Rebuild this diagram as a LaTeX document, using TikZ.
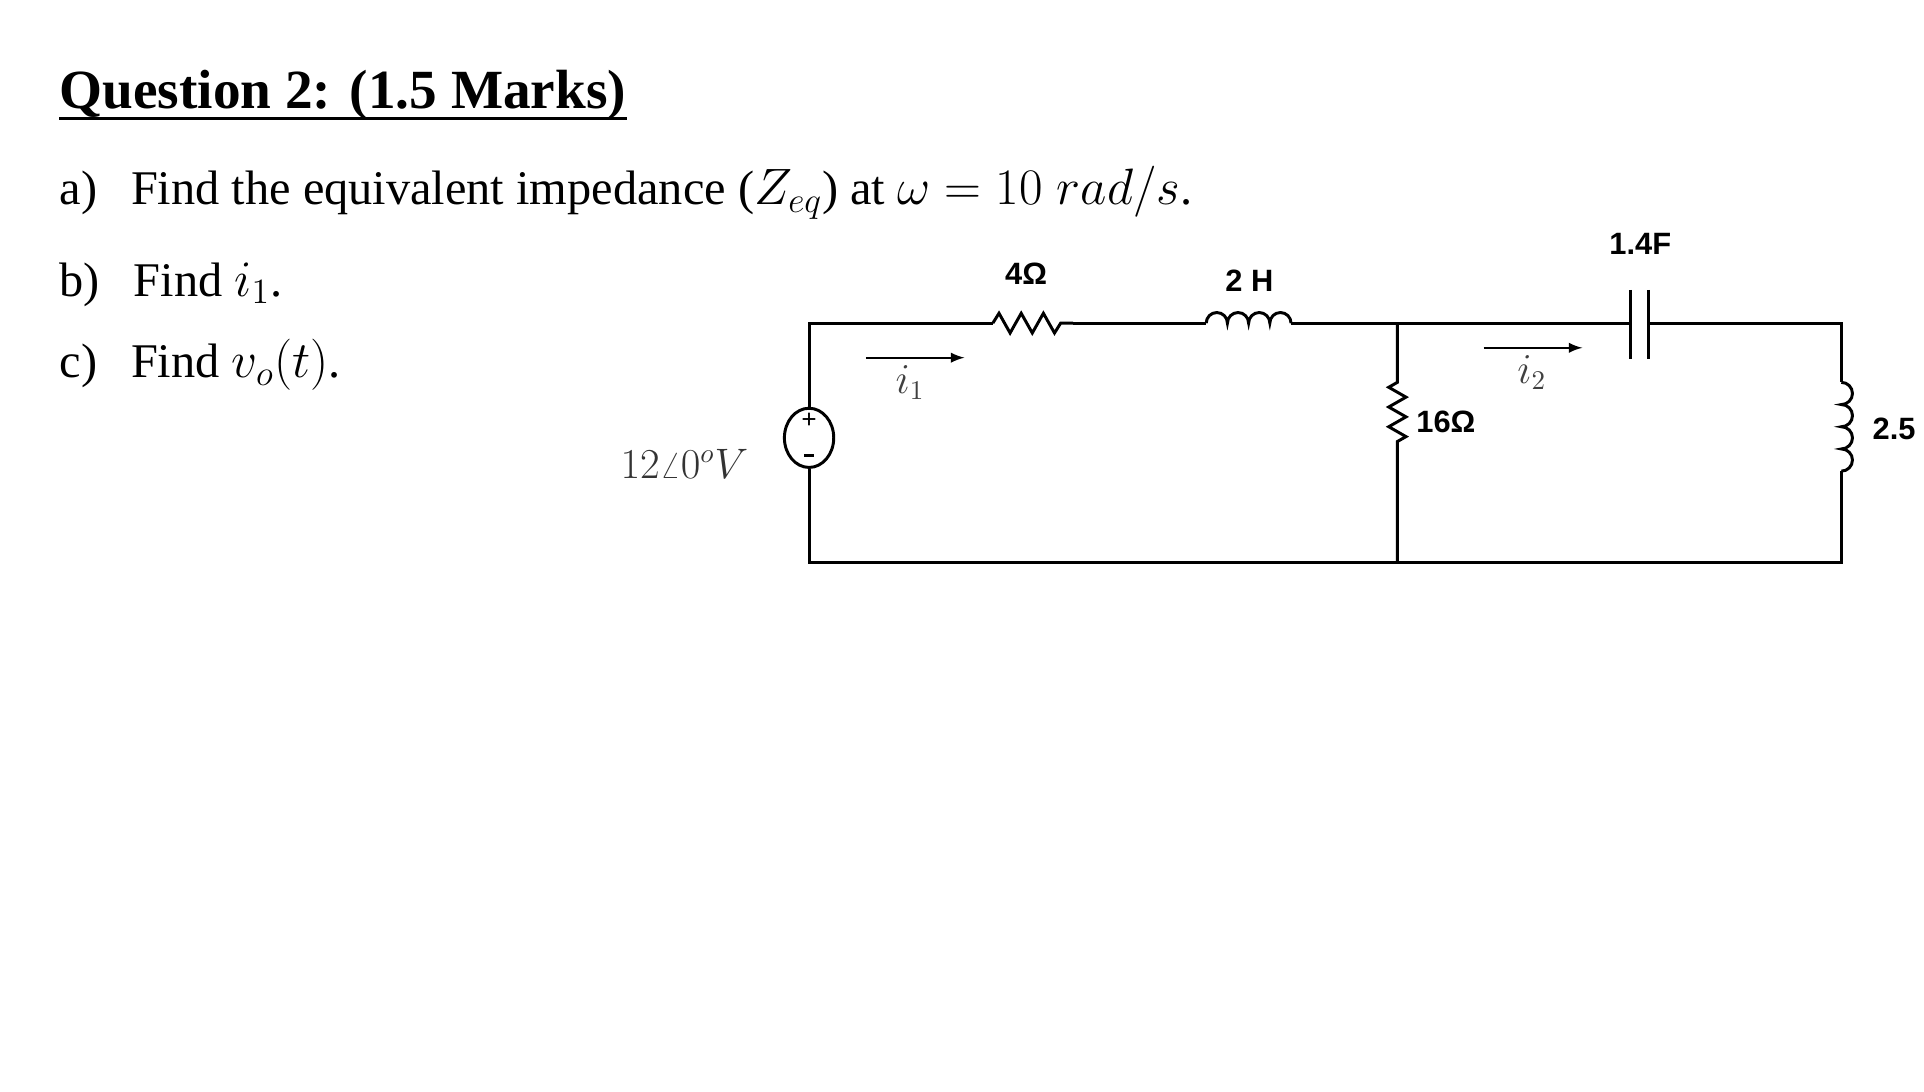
\documentclass[tikz,border=0pt]{standalone}
\usepackage{fontspec}
\usetikzlibrary{shapes.geometric}
\setmainfont{Liberation Serif}
\newfontfamily\lab{Liberation Sans}
\begin{document}
\begin{tikzpicture}[x=0.5pt,y=-0.5pt,
  w/.style={line width=1.2pt},
  lbl/.style={font=\lab\bfseries\fontsize{12.5}{14}\selectfont,inner sep=0pt},
  txt/.style={anchor=base west,inner sep=0pt,font=\fontsize{19.6}{24}\selectfont}]
\useasboundingbox (0,0) rectangle (1560,885);
\node[anchor=base west,inner sep=0pt,font=\bfseries\fontsize{22.4}{26}\selectfont] (title) at (48,88) {Question 2: (1.5 Marks)};
\draw[line width=1.3pt] (title.base west) ++(0,8) -- ([yshift=-4pt]title.base east);
\node[txt] (qa) at (48,166) {a)\hspace{0.7em}Find the equivalent impedance ($Z_{eq}$) at $\omega = 10\;rad/s$.};
\node[txt] (qb) at (48,240) {b)\hspace{0.7em}Find $i_1$.};
\node[txt] (qc) at (48,306) {c)\hspace{0.7em}Find $v_o(t)$.};
% nodes
\coordinate (tl) at (656,262); \coordinate (bl) at (656,456);
\coordinate (r1a) at (805,262); \coordinate (r1b) at (870,262);
\coordinate (l1a) at (978,262); \coordinate (l1b) at (1047,262);
\coordinate (tm) at (1133,262); \coordinate (bm) at (1133,456);
\coordinate (ca) at (1322,262); \coordinate (cb) at (1337,262);
\coordinate (tr) at (1493,262); \coordinate (br) at (1493,456);
\coordinate (r2a) at (1133,310); \coordinate (r2b) at (1133,368);
\coordinate (l2a) at (1493,310); \coordinate (l2b) at (1493,382);
\node[draw,w,ellipse,minimum width=20pt,minimum height=24pt,inner sep=0pt] (src) at (656,355) {};
\node[font=\fontsize{11}{11}\selectfont\bfseries,inner sep=0] at (656,341) {+};
\node[font=\fontsize{11}{11}\selectfont\bfseries,inner sep=0] at (656,369) {\rule{4pt}{1.2pt}};
\draw[w] (src.north) -- (tl) -- (r1a);
\draw[w] (r1a) -- ++(5,-8) -- ++(9,16) -- ++(9,-16) -- ++(9,16) -- ++(9,-16) -- ++(9,16) -- ++(5,-8) -- (r1b);
\draw[w] (r1b) -- (l1a);
\draw[w] (l1a) \foreach \k in {1,...,4} { arc(180:0:4.3pt) };
\draw[w] (l1b) -- (tm) -- (ca);
\draw[w] (ca) ++(0,-27) -- ++(0,56);
\draw[w] (cb) ++(0,-27) -- ++(0,56);
\draw[w] (cb) -- (tr) -- (l2a);
\draw[w] (l2a) \foreach \k in {1,...,4} { arc(90:-90:4.5pt) };
\draw[w] (l2b) -- (br) -- (bl) -- (src.south);
\draw[w] (tm) -- (r2a) -- ++(-7,4) -- ++(14,8) -- ++(-14,8) -- ++(14,8) -- ++(-14,8) -- ++(14,8) -- ++(-7,4) -- (r2b) -- (bm);
% arrows
\coordinate (a1s) at (702,290); \coordinate (a1e) at (782,290);
\draw[line width=0.9pt,-latex] (a1s) -- (a1e);
\coordinate (a2s) at (1203,282); \coordinate (a2e) at (1283,282);
\draw[line width=0.9pt,-latex] (a2s) -- (a2e);
\node[font=\fontsize{16}{16}\selectfont,text=black!75] (i1) at (738,310) {$i_1$};
\node[font=\fontsize{16}{16}\selectfont,text=black!75] (i2) at (1242,302) {$i_2$};
\node[lbl] (l4) at (832,222) {4Ω};
\node[lbl] (l2h) at (1013,228) {2 H};
\node[lbl] (l14) at (1330,198) {1.4F};
\node[lbl,anchor=west] (l16) at (1148,342) {16Ω};
\node[lbl,anchor=west] (l25) at (1518,348) {2.5};
\node[font=\fontsize{16}{16}\selectfont,text=black!80] (vs) at (555,376) {$12\angle 0^{o}V$};
\end{tikzpicture}
\end{document}
